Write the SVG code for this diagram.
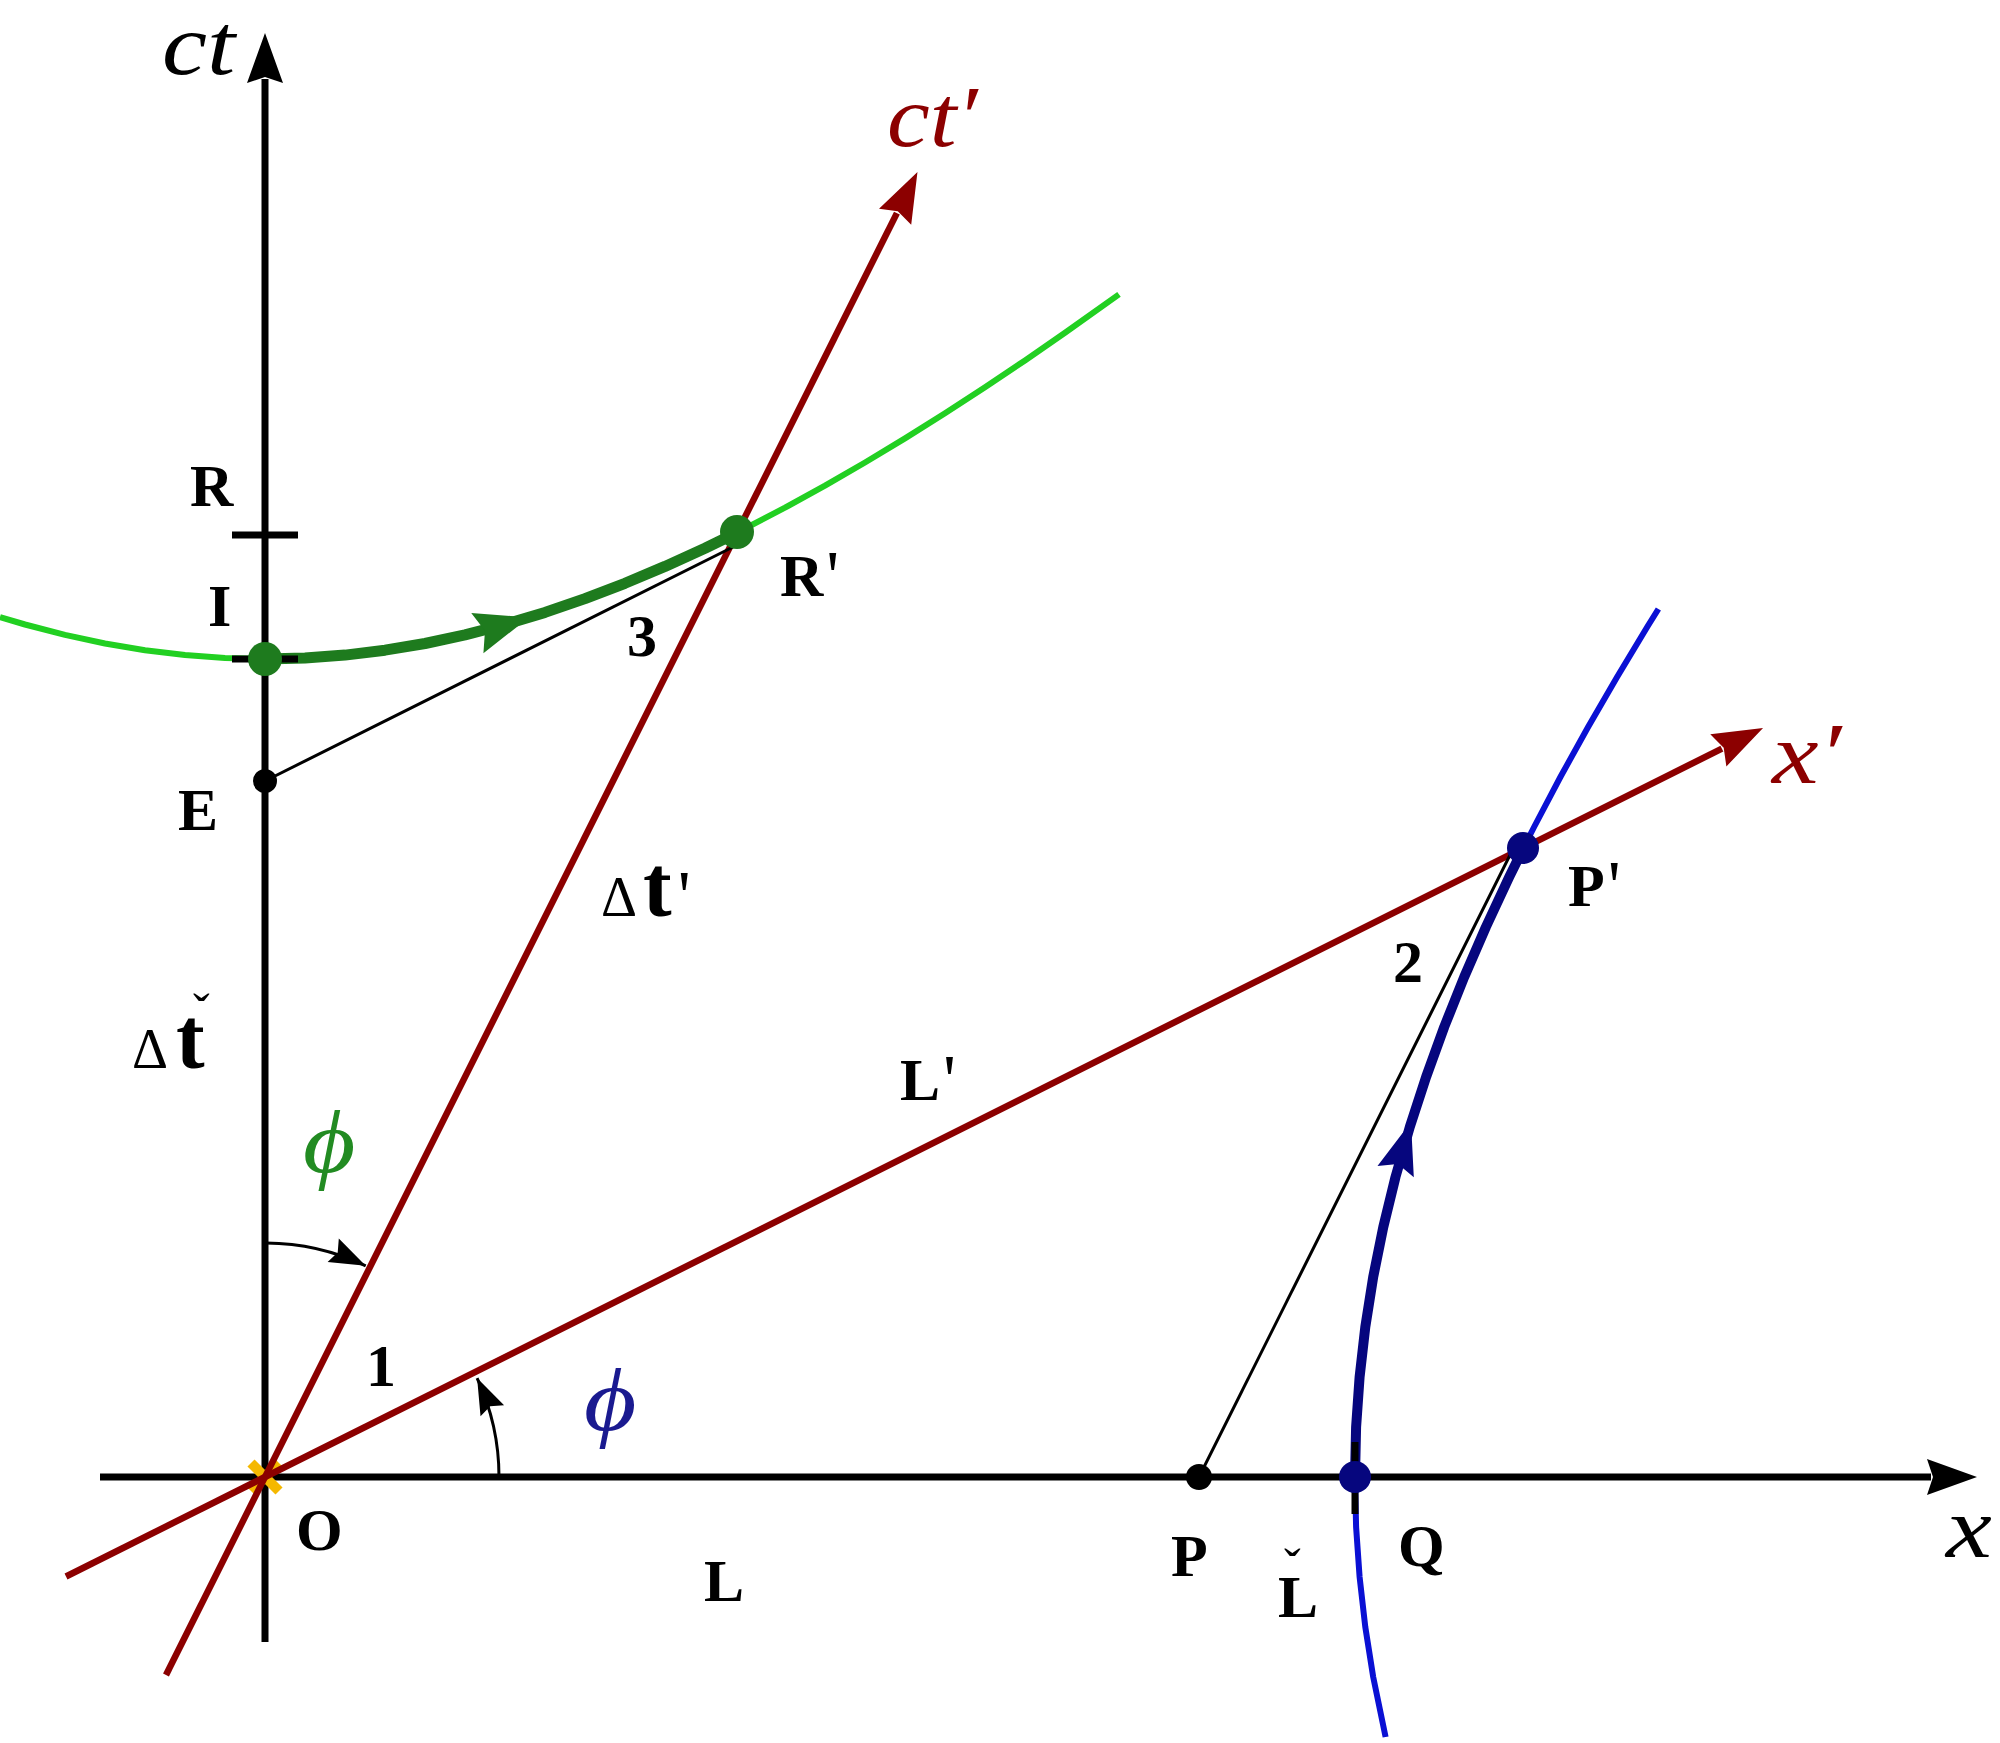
<svg xmlns="http://www.w3.org/2000/svg" width="2000" height="1743" viewBox="0 0 2000 1743">
<style>
.axis{stroke:#000;stroke-width:7;fill:none}
.red{stroke:#8c0000;stroke-width:6.5;fill:none}
.thin{stroke:#000;stroke-width:3;fill:none}
.arc{stroke:#000;stroke-width:3;fill:none}
.lg{stroke:#22d022;stroke-width:6;fill:none;stroke-linejoin:round}
.dg{stroke:#1e7b1e;stroke-width:11;fill:none;stroke-linejoin:round}
.lb{stroke:#0a10d4;stroke-width:6;fill:none;stroke-linejoin:round}
.db{stroke:#06067e;stroke-width:10;fill:none;stroke-linejoin:round}
.tick{stroke:#000;stroke-width:7;fill:none}
.lbl{font-family:"Liberation Serif","DejaVu Serif",serif;font-weight:bold;font-size:60px;fill:#000}
.pr{font-family:"Liberation Serif",serif;font-weight:normal;font-size:72px}
.car{font-family:"Liberation Serif",serif;font-weight:normal;font-size:50px}
.math{font-family:"Liberation Serif","DejaVu Serif",serif;font-style:italic;font-size:86px}
.phi{font-family:"Liberation Serif","DejaVu Serif",serif;font-style:italic;font-size:88px}
.delta{font-family:"Liberation Serif","DejaVu Serif",serif;font-weight:normal;font-size:56px}
.tb{font-family:"Liberation Serif","DejaVu Serif",serif;font-weight:bold;font-size:86px}
</style>
<defs>
<marker id="axArrow" markerUnits="userSpaceOnUse" orient="auto" refX="0" refY="0" markerWidth="60" markerHeight="40" viewBox="-10 -20 60 40" style="overflow:visible">
<path d="M46,0 L-4,-18 L2,0 L-4,18 Z" fill="#000"/>
</marker>
<marker id="redArrow" markerUnits="userSpaceOnUse" orient="auto" refX="0" refY="0" markerWidth="60" markerHeight="40" viewBox="-10 -20 60 40" style="overflow:visible">
<path d="M46,0 L-4,-18 L2,0 L-4,18 Z" fill="#8c0000"/>
</marker>
<marker id="arcArrow" markerUnits="userSpaceOnUse" orient="auto" refX="0" refY="0" markerWidth="40" markerHeight="30" viewBox="-40 -15 40 30" style="overflow:visible">
<path d="M0,0 L-36,-13 L-31,0 L-36,13 Z" fill="#000"/>
</marker>
<marker id="greenArrow" markerUnits="userSpaceOnUse" orient="auto" refX="0" refY="0" markerWidth="60" markerHeight="50" viewBox="-60 -25 60 50" style="overflow:visible">
<path d="M0,0 L-54,-21 L-46,0 L-54,21 Z" fill="#1e7b1e"/>
</marker>
<marker id="blueArrow" markerUnits="userSpaceOnUse" orient="auto" refX="0" refY="0" markerWidth="60" markerHeight="50" viewBox="-60 -25 60 50" style="overflow:visible">
<path d="M0,0 L-52,-19 L-44,0 L-52,19 Z" fill="#06067e"/>
</marker>
</defs>
<rect width="2000" height="1743" fill="#fff"/>

<g id="connectors">
<path id="ct-axis" class="axis" d="M265,1642 L265,79" marker-end="url(#axArrow)"/>
<path id="x-axis" class="axis" d="M100,1477 L1931,1477" marker-end="url(#axArrow)"/>
<g id="origin-mark" stroke="#f5b800" stroke-width="10">
<line x1="251" y1="1463" x2="279" y2="1491"/>
<line x1="251" y1="1491" x2="279" y2="1463"/>
</g>
<path id="ctp-axis" class="red" d="M166,1675 L896.9,213.1" marker-end="url(#redArrow)"/>
<path id="xp-axis" class="red" d="M66,1576.5 L1721.9,748.6" marker-end="url(#redArrow)"/>
<path id="E-line" class="thin" d="M265,781 L733,547"/>
<path id="P-line" class="thin" d="M1199,1477 L1511,853"/>
<path id="arc-phi-t" class="arc" d="M266,1243 A234,234 0 0 1 365.7,1265.8" marker-end="url(#arcArrow)"/>
<path id="arc-phi-x" class="arc" d="M499,1477 A234,234 0 0 0 477.1,1378.1" marker-end="url(#arcArrow)"/>
<path id="green-hyperbola" class="lg" d="M0,617.1 L25,624.5 L65,634.9 L105,643.5 L145,650.2 L185,655.1 L225,658 L265,659 L305,658 L345,655.1 L385,650.2 L425,643.5 L465,634.9 L505,624.5 L545,612.4 L585,598.6 L625,583.3 L665,566.4 L705,548.2 L737.3,532.5 L785,507.7 L825,485.7 L865,462.5 L905,438.4 L945,413.3 L985,387.3 L1025,360.4 L1065,332.8 L1119,294.4"/>
<path id="green-worldline" class="dg" d="M265,659 L305,658 L345,655.1 L385,650.2 L425,643.5 L465,634.9 L505,624.5 L545,612.4 L585,598.6 L625,583.3 L665,566.4 L705,548.2 L737.3,532.5"/>
<path id="green-dir" d="M507.9,623.8 L529,617.4" fill="none" stroke="none" marker-end="url(#greenArrow)"/>
<path id="blue-hyperbola" class="lb" d="M1385.6,1737 L1373.2,1677 L1365.3,1627 L1359.6,1577 L1356.1,1527 L1355,1477 L1356.1,1427 L1359.6,1377 L1365.3,1327 L1373.2,1277 L1383.3,1227 L1395.5,1177 L1409.8,1127 L1426.1,1077 L1444.2,1027 L1464.2,977 L1485.9,927 L1509.2,877 L1523.6,847.7 L1534.1,827 L1560.4,777 L1588.1,727 L1617.1,677 L1647.2,627 L1658.4,609"/>
<path id="blue-worldline" class="db" d="M1355,1477 L1356.1,1427 L1359.6,1377 L1365.3,1327 L1373.2,1277 L1383.3,1227 L1395.5,1177 L1409.8,1127 L1426.1,1077 L1444.2,1027 L1464.2,977 L1485.9,927 L1509.2,877 L1523.6,847.7"/>
<path id="blue-dir" d="M1405.1,1141.1 L1411,1122" fill="none" stroke="none" marker-end="url(#blueArrow)"/>
<path id="R-tick" class="tick" d="M232,535 L298,535"/>
<path id="I-tick" class="tick" d="M232,659 L298,659"/>
<path id="Q-tick" class="tick" d="M1355,1442 L1355,1514"/>
</g>

<g id="node-R"><text class="lbl" x="190" y="506">R</text></g>
<g id="node-I"><circle cx="265" cy="659" r="17" fill="#1e7b1e"/><text class="lbl" x="208" y="626">I</text></g>
<g id="node-Rp"><circle cx="737" cy="532" r="17" fill="#1e7b1e"/><text class="lbl" x="780" y="596">R<tspan class="pr" dx="3" dy="4">'</tspan></text></g>
<g id="node-E"><circle cx="265" cy="781" r="12" fill="#000"/><text class="lbl" x="178" y="830">E</text></g>
<g id="node-P"><circle cx="1199" cy="1477" r="13" fill="#000"/><text class="lbl" x="1171" y="1576">P</text></g>
<g id="node-Q"><circle cx="1355" cy="1477" r="16" fill="#06067e"/><text class="lbl" x="1398" y="1566">Q</text></g>
<g id="node-Pp"><circle cx="1523" cy="848" r="16" fill="#06067e"/><text class="lbl" x="1568" y="906">P<tspan class="pr" dx="3" dy="4">'</tspan></text></g>
<g id="node-O"><text class="lbl" x="296" y="1550">O</text></g>

<g id="labels">
<text class="math" transform="translate(162,74) scale(1.18,1)">ct</text>
<text class="math" transform="translate(887,146) scale(1.12,1)" fill="#8c0000">ct′</text>
<text class="math" transform="translate(1772,783) scale(1.22,1)" fill="#8c0000">x′</text>
<text class="math" transform="translate(1946,1557) scale(1.2,1)">x</text>
<text class="lbl" x="627" y="656">3</text>
<text class="lbl" x="1393" y="982">2</text>
<text class="lbl" x="366" y="1386">1</text>
<text class="lbl" x="704" y="1601">L</text>
<text class="lbl" x="1278" y="1617">L<tspan class="car" x="1284" y="1584">ˇ</tspan></text>
<text class="lbl" x="900" y="1100">L<tspan class="pr" dx="3" dy="4">'</tspan></text>
<text x="601" y="916"><tspan class="delta">Δ</tspan><tspan class="tb" dx="6">t</tspan><tspan class="pr" dx="6" dy="4">'</tspan></text>
<text x="132" y="1068"><tspan class="delta">Δ</tspan><tspan class="tb" dx="8">t</tspan><tspan class="car" x="193" y="1029">ˇ</tspan></text>
<text class="phi" transform="translate(303,1172) scale(1.15,1)" fill="#228b22">ϕ</text>
<text class="phi" transform="translate(584,1430) scale(1.15,1)" fill="#1a1a90">ϕ</text>
</g>
</svg>
